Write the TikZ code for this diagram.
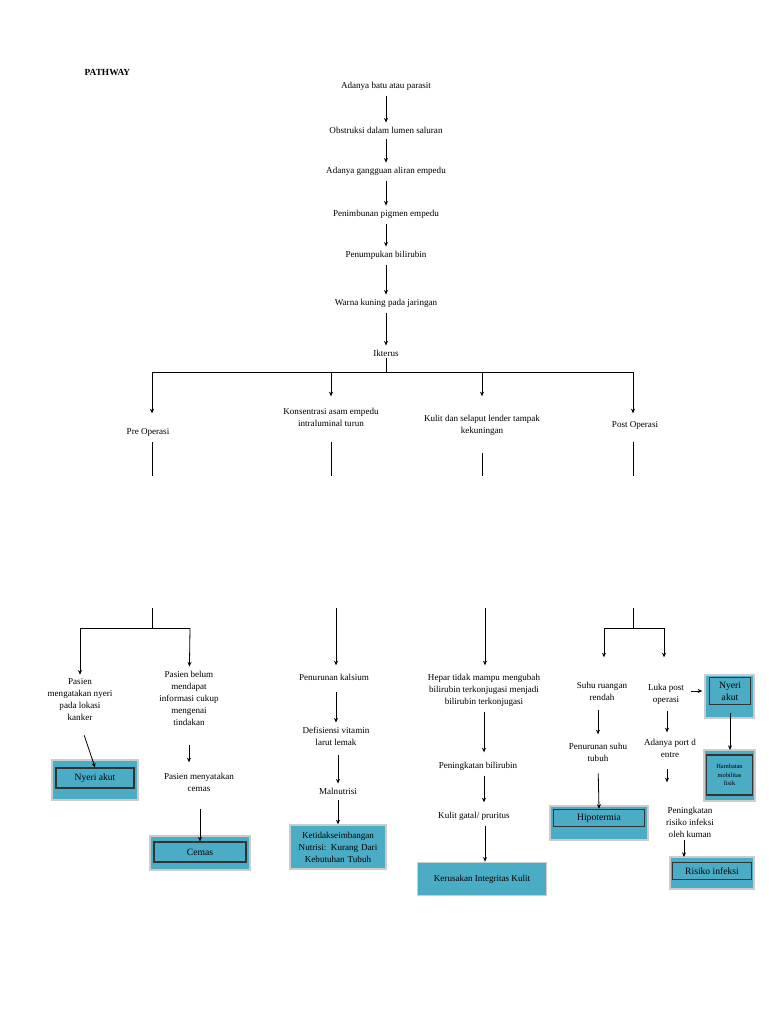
\documentclass[tikz,border=0pt]{standalone}
\usepackage{fontspec}
\setmainfont{Liberation Serif}
\usetikzlibrary{arrows.meta}
\definecolor{boxblue}{HTML}{4BACC6}
\tikzset{
  txt/.style={align=center,font=\fontsize{6.8}{9}\selectfont,inner sep=1pt},
  arr/.style={-{Stealth[length=3.5pt,width=3pt]},semithick,shorten <=3pt,shorten >=2pt},
  ln/.style={semithick},
  outerbox/.style={draw=gray!40,line width=1pt,fill=boxblue},
  innerbox/.style={draw=black!80,thick},
  dx/.style={txt,font=\fontsize{7.2}{9}\selectfont}
}
\begin{document}
\begin{tikzpicture}[x=0.75pt,y=-0.75pt]
\useasboundingbox (0,0) rectangle (768,1024);
\node[anchor=west,font=\fontsize{7}{8}\selectfont\bfseries] (title) at (80,72) {PATHWAY};
% top chain
\node[txt] (batu) at (386,86) {Adanya batu atau parasit};
\node[txt] (obs) at (386,130) {Obstruksi dalam lumen saluran};
\node[txt] (gang) at (386,171) {Adanya gangguan aliran empedu};
\node[txt] (pig) at (386,214) {Penimbunan pigmen empedu};
\node[txt] (bil) at (386,255) {Penumpukan bilirubin};
\node[txt] (warna) at (386,303) {Warna kuning pada jaringan};
\node[txt] (ikt) at (386,353) {Ikterus};
\draw[arr] (batu) -- (obs);
\draw[arr] (obs) -- (gang);
\draw[arr] (gang) -- (pig);
\draw[arr] (pig) -- (bil);
\draw[arr] (bil) -- (warna);
\draw[arr] (warna) -- (ikt);
% branches
\coordinate (br) at (386,372);
\draw[ln] (ikt) -- (br);
\draw[ln] (152,372) -- (633,372);
\node[txt] (pre) at (148,432) {Pre Operasi};
\node[txt] (kons) at (331,417) {Konsentrasi asam empedu\\intraluminal turun};
\node[txt] (kul) at (482,425) {Kulit dan selaput lender tampak\\kekuningan};
\node[txt] (post) at (635,425) {Post Operasi};
\draw[arr,shorten <=0pt] (152,372) -- (152,416);
\draw[arr,shorten <=0pt] (331,372) -- (331,399);
\draw[arr,shorten <=0pt] (482,372) -- (482,399);
\draw[arr,shorten <=0pt] (633,372) -- (633,416);
\draw[ln] (152,442) -- (152,476);
\draw[ln] (331,442) -- (331,476);
\draw[ln] (482,453) -- (482,476);
\draw[ln] (633,442) -- (633,476);
% pre operasi
\draw[ln] (152,608) -- (152,628);
\draw[ln] (80,628) -- (190,628);
\node[txt] (nyeri1) at (80,700) {Pasien\\mengatakan nyeri\\pada lokasi\\kanker};
\node[txt] (belum) at (189,698) {Pasien belum\\mendapat\\informasi cukup\\mengenai\\tindakan};
\draw[arr,shorten <=0pt] (80,628) -- (nyeri1);
\draw[arr,shorten <=0pt] (190,628) -- (belum);
\node[txt] (cemas1) at (199,782) {Pasien menyatakan\\cemas};
\draw[arr,shorten <=14pt] (belum.south -| 189,0) -- (189,765);
\draw[outerbox] (52,760) rectangle (138,800);
\node[innerbox,dx,minimum width=58.5pt,minimum height=15pt] (nyeriakut) at (95,778) {Nyeri akut};
\draw[arr,shorten <=10pt,shorten >=0pt] (nyeri1.south) -- (nyeriakut.north);
\draw[outerbox] (150,836) rectangle (250,870);
\node[innerbox,dx,minimum width=69pt,minimum height=15pt] (cemas) at (200,852) {Cemas};
\draw[arr,shorten <=12pt,shorten >=0pt] (cemas1.south -| cemas.north) -- (cemas.north);
% konsentrasi
\node[txt] (kals) at (334,677) {Penurunan kalsium};
\node[txt] (defi) at (336,736) {Defisiensi vitamin\\larut lemak};
\node[txt] (maln) at (338,791) {Malnutrisi};
\draw[arr,shorten <=0pt] (336,608) -- (336,668);
\draw[arr,shorten <=8pt] (kals.south -| 336,0) -- (defi.north -| 336,0);
\draw[arr,shorten <=6pt] (defi.south -| 338,0) -- (maln.north -| 338,0);
\node[outerbox,txt,text width=68pt,inner sep=2pt,minimum height=33pt] (ketid) at (338,847) {Ketidakseimbangan\\Nutrisi: Kurang Dari\\Kebutuhan Tubuh};
\draw[arr,shorten >=0pt] (maln.south -| 338,0) -- (ketid.north);
% kulit
\node[txt] (hepar) at (484,690) {Hepar tidak mampu mengubah\\bilirubin terkonjugasi menjadi\\bilirubin terkonjugasi};
\node[txt] (peni) at (478,766) {Peningkatan bilirubin};
\node[txt] (gatal) at (474,816) {Kulit gatal/ pruritus};
\draw[arr,shorten <=0pt] (485,608) -- (485,668);
\draw[arr] (hepar.south -| 484,0) -- (484,755);
\draw[arr] (peni.south -| 484,0) -- (484,805);
\node[outerbox,txt,minimum width=97pt,minimum height=25pt] (kerus) at (482,879) {Kerusakan Integritas Kulit};
\draw[arr,shorten >=0pt] (gatal.south -| 485,0) -- (kerus.north -| 485,0);
% post operasi
\draw[ln] (633,608) -- (633,628);
\draw[ln] (604,628) -- (664,628);
\node[txt] (suhu) at (602,691) {Suhu ruangan\\rendah};
\node[txt] (luka) at (666,694) {Luka post\\operasi};
\draw[arr,shorten <=0pt] (604,628) -- (604,660);
\draw[arr,shorten <=0pt] (664,628) -- (664,660);
\node[txt] (pensu) at (598,752) {Penurunan suhu\\tubuh};
\draw[arr,shorten <=6pt] (suhu.south -| 598,0) -- (598,737);
\draw[outerbox] (550,806) rectangle (648,840);
\node[innerbox,dx,minimum width=68pt,minimum height=13pt] (hipo) at (599,818) {Hipotermia};
\draw[arr,shorten <=8pt,shorten >=0pt] (pensu.south) -- (hipo.north);
\draw[outerbox] (705,675) rectangle (754,718);
\node[innerbox,dx,minimum width=31pt,minimum height=20pt,inner sep=0pt] (nyeri2) at (730,691) {Nyeri\\akut};
\draw[arr,shorten <=4pt,shorten >=2pt] (luka.east |- 0,691) -- (705,691);
\node[txt] (port) at (670,748) {Adanya port d\\entre};
\draw[arr,shorten <=4pt] (luka.south -| 667,0) -- (667,735);
\node[txt] (risk) at (690,822) {Peningkatan\\risiko infeksi\\oleh kuman};
\draw[arr,shorten <=8pt] (port.south -| 667,0) -- (667,785);
\draw[outerbox] (670,857) rectangle (754,889);
\node[innerbox,dx,minimum width=59pt,minimum height=13pt] (infek) at (712,871) {Risiko infeksi};
\draw[arr,shorten <=0pt,shorten >=0pt] (684,840) -- (684,857);
\draw[outerbox] (704,750) rectangle (755,801);
\node[innerbox,align=center,font=\fontsize{4.8}{6.5}\selectfont,minimum width=34pt,minimum height=30pt,inner sep=0pt] (hamb) at (729.5,775) {Hambatan\\mobilitas\\fisik};
\draw[arr,shorten <=6pt,shorten >=0pt] (nyeri2.south -| 730,718) -- (730,750);
\end{tikzpicture}
\end{document}
